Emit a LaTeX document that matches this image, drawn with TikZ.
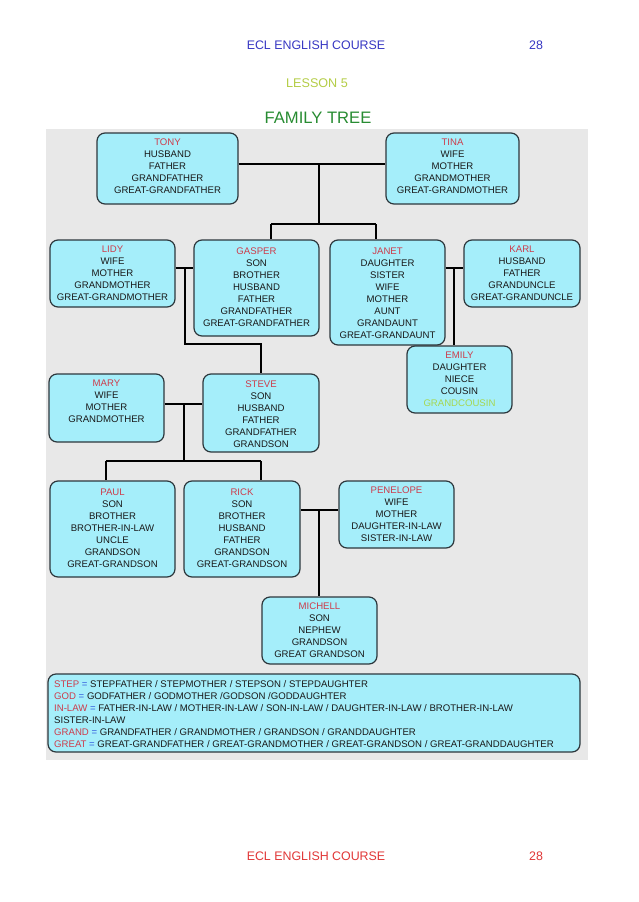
\documentclass[tikz,border=0pt]{standalone}
\usepackage{fontspec}
\setmainfont{Liberation Sans}
\definecolor{panel}{RGB}{232,232,232}
\definecolor{boxfill}{RGB}{165,238,250}
\definecolor{boxline}{RGB}{45,55,60}
\definecolor{namered}{RGB}{205,60,75}
\definecolor{ink}{RGB}{25,25,25}
\definecolor{hblue}{RGB}{55,55,195}
\definecolor{lessongreen}{RGB}{180,205,70}
\definecolor{titlegreen}{RGB}{40,140,50}
\definecolor{footred}{RGB}{225,55,55}
\definecolor{cousingreen}{RGB}{165,215,80}
\definecolor{eqblue}{RGB}{50,90,220}
\newcommand{\pname}[1]{\textcolor{namered}{#1}}
\newcommand{\eqs}{\textcolor{eqblue}{=}}
\begin{document}
\begin{tikzpicture}[x=1pt,y=-1pt,
  box/.style={draw=boxline, line width=1.2pt, fill=boxfill, rounded corners=8pt, inner sep=0pt},
  txt/.style={align=center, inner sep=0pt, font=\fontsize{9.6}{12}\selectfont, text=ink},
  link/.style={line width=2.9pt, draw=black},
  head/.style={inner sep=0pt, font=\fontsize{12.4}{14}\selectfont}]
\useasboundingbox (0,0) rectangle (638,902);
\fill[white] (0,0) rectangle (638,902);
% header
\node[head, text=hblue] (hd) at (316,45) {ECL ENGLISH COURSE};
\node[head, text=hblue] (hdp) at (536,45) {28};
\node[head, text=lessongreen, font=\fontsize{12.6}{14}\selectfont] (lesson) at (317,83) {LESSON 5};
\node[inner sep=0pt, text=titlegreen, font=\fontsize{16.6}{18}\selectfont] (title) at (318,118) {FAMILY TREE};
% panel
\fill[panel] (46,129) rectangle (588,760);
% junction coordinates
\coordinate (c1) at (319,164);
\coordinate (c2) at (319,224);
\coordinate (c2a) at (271,224);
\coordinate (c2b) at (376,224);
\coordinate (c3) at (185,268);
\coordinate (c4) at (261,344);
\coordinate (c5) at (454,268);
\coordinate (c6) at (184,404);
\coordinate (c7) at (184,461);
\coordinate (c7a) at (106,461);
\coordinate (c7b) at (261,461);
\coordinate (c8) at (319,510);
% boxes
\node[box, minimum width=141pt, minimum height=71pt] (tony) at (167.5,168.5) {};
\node[box, minimum width=133pt, minimum height=71pt] (tina) at (452.5,168.5) {};
\node[box, minimum width=125pt, minimum height=67pt] (lidy) at (112.5,273.5) {};
\node[box, minimum width=125pt, minimum height=96pt] (gasper) at (256.5,288) {};
\node[box, minimum width=115pt, minimum height=105pt] (janet) at (387.5,292.5) {};
\node[box, minimum width=116pt, minimum height=67pt] (karl) at (522,273.5) {};
\node[box, minimum width=105pt, minimum height=67pt] (emily) at (459.5,379.5) {};
\node[box, minimum width=115pt, minimum height=68pt] (mary) at (106.5,408) {};
\node[box, minimum width=116pt, minimum height=78pt] (steve) at (261,413) {};
\node[box, minimum width=125pt, minimum height=96pt] (paul) at (112.5,529) {};
\node[box, minimum width=116pt, minimum height=96pt] (rick) at (242,529) {};
\node[box, minimum width=115pt, minimum height=67pt] (penelope) at (396.5,514.5) {};
\node[box, minimum width=115pt, minimum height=67pt] (michell) at (319.5,630.5) {};
\node[box, minimum width=532pt, minimum height=78pt] (legend) at (314,713) {};
% connectors
\draw[link] (tony.east |- c1) -- (tina.west |- c1);
\draw[link] (c1) -- (c2);
\draw[link] (c2a) -- (c2b);
\draw[link] (c2a) -- (c2a |- gasper.north);
\draw[link] (c2b) -- (c2b |- janet.north);
\draw[link] (lidy.east |- c3) -- (gasper.west |- c3);
\draw[link] (c3) |- (c4) -- (c4 |- steve.north);
\draw[link] (janet.east |- c5) -- (karl.west |- c5);
\draw[link] (c5) -- (c5 |- emily.north);
\draw[link] (mary.east |- c6) -- (steve.west |- c6);
\draw[link] (c6) -- (c7);
\draw[link] (c7a) -- (c7b);
\draw[link] (c7a) -- (c7a |- paul.north);
\draw[link] (c7b) -- (c7b |- rick.north);
\draw[link] (rick.east |- c8) -- (penelope.west |- c8);
\draw[link] (c8) -- (c8 |- michell.north);
% texts
\node[txt] (tony-t) at (167.5,166.5) {\pname{TONY}\\HUSBAND\\FATHER\\GRANDFATHER\\GREAT-GRANDFATHER};
\node[txt] (tina-t) at (452.5,166.5) {\pname{TINA}\\WIFE\\MOTHER\\GRANDMOTHER\\GREAT-GRANDMOTHER};
\node[txt] (lidy-t) at (112.5,273) {\pname{LIDY}\\WIFE\\MOTHER\\GRANDMOTHER\\GREAT-GRANDMOTHER};
\node[txt] (gasper-t) at (256.5,287) {\pname{GASPER}\\SON\\BROTHER\\HUSBAND\\FATHER\\GRANDFATHER\\GREAT-GRANDFATHER};
\node[txt] (janet-t) at (387.5,293) {\pname{JANET}\\DAUGHTER\\SISTER\\WIFE\\MOTHER\\AUNT\\GRANDAUNT\\GREAT-GRANDAUNT};
\node[txt] (karl-t) at (522,273) {\pname{KARL}\\HUSBAND\\FATHER\\GRANDUNCLE\\GREAT-GRANDUNCLE};
\node[txt] (emily-t) at (459.5,379) {\pname{EMILY}\\DAUGHTER\\NIECE\\COUSIN\\\textcolor{cousingreen}{GRANDCOUSIN}};
\node[txt] (mary-t) at (106.5,401.5) {\pname{MARY}\\WIFE\\MOTHER\\GRANDMOTHER};
\node[txt] (steve-t) at (261,414) {\pname{STEVE}\\SON\\HUSBAND\\FATHER\\GRANDFATHER\\GRANDSON};
\node[txt] (paul-t) at (112.5,528) {\pname{PAUL}\\SON\\BROTHER\\BROTHER-IN-LAW\\UNCLE\\GRANDSON\\GREAT-GRANDSON};
\node[txt] (rick-t) at (242,528) {\pname{RICK}\\SON\\BROTHER\\HUSBAND\\FATHER\\GRANDSON\\GREAT-GRANDSON};
\node[txt] (penelope-t) at (396.5,514) {\pname{PENELOPE}\\WIFE\\MOTHER\\DAUGHTER-IN-LAW\\SISTER-IN-LAW};
\node[txt] (michell-t) at (319.5,630) {\pname{MICHELL}\\SON\\NEPHEW\\GRANDSON\\GREAT GRANDSON};
\node[txt, align=left, anchor=west] (legend-t) at (54,714) {%
\pname{STEP} \eqs{} STEPFATHER / STEPMOTHER / STEPSON / STEPDAUGHTER\\
\pname{GOD} \eqs{} GODFATHER / GODMOTHER /GODSON /GODDAUGHTER\\
\pname{IN-LAW} \eqs{} FATHER-IN-LAW / MOTHER-IN-LAW / SON-IN-LAW / DAUGHTER-IN-LAW / BROTHER-IN-LAW\\
SISTER-IN-LAW\\
\pname{GRAND} \eqs{} GRANDFATHER / GRANDMOTHER / GRANDSON / GRANDDAUGHTER\\
\pname{GREAT} \eqs{} GREAT-GRANDFATHER / GREAT-GRANDMOTHER / GREAT-GRANDSON / GREAT-GRANDDAUGHTER};
% footer
\node[head, text=footred] (ft) at (316,856) {ECL ENGLISH COURSE};
\node[head, text=footred] (ftp) at (536,856) {28};
\end{tikzpicture}
\end{document}
